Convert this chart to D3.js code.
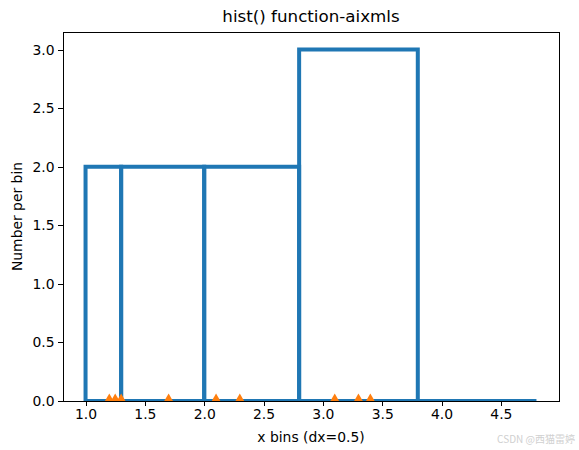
<!DOCTYPE html>
<html>
<head>
<meta charset="utf-8">
<script src="https://cdn.jsdelivr.net/npm/d3@7"></script>
<style>
  body { margin: 0; background: #fff; }
  text { font-family: "DejaVu Sans", sans-serif; }
</style>
</head>
<body>
<div id="chart"></div>
<script>
// bin edges and counts per bin
var binEdges = [1.0, 1.3, 2.0, 2.8, 3.8, 4.8];
var binCounts = [2, 2, 2, 3, 0];
// raw sample points shown as triangles on the axis
var samples = [1.2, 1.25, 1.3, 1.7, 2.1, 2.3, 3.1, 3.3, 3.4];
var xTicks = [1.0, 1.5, 2.0, 2.5, 3.0, 3.5, 4.0, 4.5];
var yTicks = [0.0, 0.5, 1.0, 1.5, 2.0, 2.5, 3.0];

var W = 579, H = 450;
var margin = { top: 32, right: 20, bottom: 49, left: 63 };
var width = W - margin.left - margin.right;
var height = H - margin.top - margin.bottom;

var svg = d3.select("#chart").append("svg")
    .attr("width", W)
    .attr("height", H);

var g = svg.append("g")
    .attr("transform", "translate(" + margin.left + "," + margin.top + ")");

var x = d3.scaleLinear().domain([0.81, 4.99]).range([0, width]);
var y = d3.scaleLinear().domain([0, 3.15]).range([height, 0]);

g.append("clipPath").attr("id", "clip")
  .append("rect").attr("width", width).attr("height", height);

var bins = binCounts.map(function(c, i) {
  return { x0: binEdges[i], x1: binEdges[i + 1], count: c };
});

var plot = g.append("g").attr("clip-path", "url(#clip)");

// each bin drawn as an unfilled outline
plot.selectAll(".bin")
  .data(bins)
  .enter()
  .append("path")
  .attr("class", "bin")
  .attr("d", function(d) {
    var xa = x(d.x0), xb = x(d.x1), y0 = y(0), yt = y(d.count);
    return "M" + xa + "," + y0 + "L" + xa + "," + yt + "L" + xb + "," + yt + "L" + xb + "," + y0 + "Z";
  })
  .attr("fill", "none")
  .attr("stroke", "#1f77b4")
  .attr("stroke-width", 4)
  .attr("stroke-linejoin", "miter");

var tri = d3.symbol().type(d3.symbolTriangle).size(55);
plot.selectAll(".pt")
  .data(samples)
  .enter()
  .append("path")
  .attr("class", "pt")
  .attr("d", tri)
  .attr("transform", function(d) { return "translate(" + x(d) + "," + (y(0) - 1) + ")"; })
  .attr("fill", "#ff7f0e");

var xAxis = d3.axisBottom(x).tickValues(xTicks).tickFormat(d3.format(".1f")).tickSizeOuter(0).tickSize(4.9).tickPadding(3.5);
var yAxis = d3.axisLeft(y).tickValues(yTicks).tickFormat(d3.format(".1f")).tickSizeOuter(0).tickSize(4.9).tickPadding(3.5);

var gx = g.append("g").attr("transform", "translate(0," + height + ")").call(xAxis);
var gy = g.append("g").call(yAxis);

[gx, gy].forEach(function(a) {
  a.select(".domain").remove();
  a.selectAll("line").attr("stroke", "#000").attr("stroke-width", 1).attr("shape-rendering", "crispEdges");
  a.selectAll("text").attr("fill", "#000").style("font-size", "13.9px").style("font-family", "DejaVu Sans");
});

// frame
g.append("rect")
  .attr("x", 0.5)
  .attr("y", 0.5)
  .attr("width", width)
  .attr("height", height)
  .attr("fill", "none")
  .attr("stroke", "#000")
  .attr("stroke-width", 1)
  .attr("shape-rendering", "crispEdges");

g.append("text")
  .attr("x", width / 2)
  .attr("y", -10)
  .attr("text-anchor", "middle")
  .style("font-size", "16.7px")
  .text("hist() function-aixmls");

g.append("text")
  .attr("x", width / 2)
  .attr("y", height + 41)
  .attr("text-anchor", "middle")
  .style("font-size", "13.9px")
  .text("x bins (dx=0.5)");

g.append("text")
  .attr("transform", "rotate(-90)")
  .attr("x", -height / 2)
  .attr("y", -41)
  .attr("text-anchor", "middle")
  .style("font-size", "13.9px")
  .text("Number per bin");

svg.append("text")
  .attr("x", 575)
  .attr("y", 443)
  .attr("text-anchor", "end")
  .attr("fill", "#d0d0d0")
  .style("font-size", "10px")
  .style("font-family", "'Noto Sans CJK SC', sans-serif")
  .text("CSDN @西猫雷婷");
</script>
</body>
</html>
